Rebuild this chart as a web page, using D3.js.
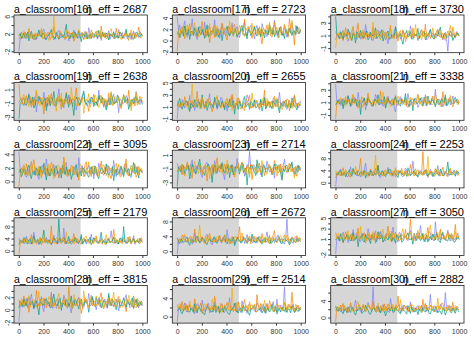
<!DOCTYPE html>
<html>
<head>
<meta charset="utf-8">
<script src="https://cdn.jsdelivr.net/npm/d3@7"></script>
<style>
  html, body { margin: 0; padding: 0; background: #fff; }
  svg { display: block; }
</style>
</head>
<body>
<script>
// Trace plots of a_classroom[16..30]: four chains, 1000 iterations, first 500 are warmup.
const params = ["a_classroom[16]", "a_classroom[17]", "a_classroom[18]",
                "a_classroom[19]", "a_classroom[20]", "a_classroom[21]",
                "a_classroom[22]", "a_classroom[23]", "a_classroom[24]",
                "a_classroom[25]", "a_classroom[26]", "a_classroom[27]",
                "a_classroom[28]", "a_classroom[29]", "a_classroom[30]"];
const nEff = [2687, 2723, 3730, 2638, 2655, 3338, 3095, 2714, 2253, 2179, 2672, 3050, 3815, 2514, 2882];

const nIter = 1000;
const warmup = 500;
const xTicks = [0, 200, 400, 600, 800, 1000];

// y tick positions and the labels that fit between them
const yTicks = [
  [-2, 0, 2, 4, 6], [-2, -1, 0, 1, 2, 3, 4], [-1, 0, 1, 2, 3, 4],
  [-3, -2, -1, 0, 1, 2], [-1, 0, 1, 2, 3, 4, 5], [-1, 0, 1, 2, 3, 4],
  [0, 1, 2, 3, 4], [-3, -2, -1, 0, 1], [0, 2, 4, 6, 8, 10],
  [0, 2, 4, 6, 8, 10], [0, 2, 4, 6, 8], [-2, -1, 0, 1, 2, 3, 4, 5],
  [-2, -1, 0, 1, 2, 3], [0, 2, 4, 6], [0, 2, 4, 6]
];
const yLabels = [
  [-2, 2, 6], [-2, 0, 2, 4], [-1, 1, 3],
  [-3, -1, 1], [-1, 1, 3, 5], [-1, 1, 3],
  [0, 2, 4], [-3, -1, 1], [0, 4, 8],
  [0, 4, 8], [0, 4, 8], [-2, 1, 3, 5],
  [-2, 0, 2], [0, 4], [0, 4]
];

const chainColors = ["#8080FF", "#F98400", "#00A08A", "#F2AD00"];

// Saved draws per chain (100 per chain, spread evenly over the 1000 iterations)
const tr16 = [
  [-2.0,0.9,1.2,1.7,2.1,2.4,0.9,1.1,1.8,1.5,2.6,0.8,1.3,2.0,0.7,1.4,2.2,1.8,1.5,2.7,3.1,0.6,1.0,1.3,1.9,2.2,2.4,1.6,0.6,1.0,1.7,2.5,2.8,1.2,1.1,1.9,1.4,0.7,2.0,2.3,0.4,1.5,1.6,1.1,2.9,2.0,1.8,0.9,1.2,1.7,2.3,1.4,0.8,2.6,1.5,1.0,3.4,1.8,1.9,1.3,1.1,2.1,2.5,0.8,1.6,1.6,0.5,2.4,2.0,1.2,1.3,1.9,2.7,0.7,1.8,1.5,0.9,2.2,1.4,1.0,3.0,1.6,1.7,2.3,1.0,1.3,2.2,0.9,1.5,1.8,0.7,2.0,2.6,1.1,1.9,1.4,1.2,2.5,2.1,1.7],
  [0.8,1.5,2.4,1.0,1.1,2.2,1.9,1.3,3.2,1.7,1.4,0.9,0.6,2.1,2.0,1.4,1.7,2.5,2.8,1.1,0.9,1.8,1.5,2.3,2.3,0.7,1.2,1.6,3.6,2.0,1.8,1.2,0.7,2.6,2.1,1.5,1.6,0.8,1.0,1.9,2.5,1.3,1.3,2.4,0.3,1.1,1.9,1.7,2.7,0.9,1.4,2.2,2.0,1.5,0.8,1.8,1.7,1.0,2.9,2.1,1.1,1.4,1.6,2.7,2.4,1.2,3.8,1.6,1.3,2.3,0.9,1.0,2.2,1.7,1.5,2.0,1.8,1.2,3.3,1.6,1.0,2.4,2.0,0.8,1.4,1.9,2.6,1.3,0.5,2.1,1.7,1.5,2.3,0.9,1.2,1.8,3.5,2.2,1.8,1.4],
  [1.5,2.1,0.9,1.4,2.2,1.0,1.6,2.4,0.4,1.8,2.5,1.2,1.8,0.7,1.1,1.9,2.9,1.5,1.3,2.2,2.0,1.1,0.7,1.6,1.7,2.3,3.0,1.2,1.4,0.8,2.3,1.7,0.8,2.0,1.9,1.3,1.2,2.6,4.2,1.5,1.6,0.9,2.1,1.8,1.0,2.4,1.5,1.1,2.6,1.6,0.2,2.0,1.8,1.3,2.4,0.8,1.3,1.9,0.9,2.2,2.0,1.4,1.7,1.0,2.8,1.8,1.1,2.3,1.5,1.2,2.2,1.7,0.6,2.0,1.9,1.3,2.5,0.9,1.4,1.6,1.0,2.4,2.1,1.1,1.6,1.9,3.1,1.4,1.3,2.2,1.8,0.8,0.8,1.7,2.4,2.0,1.5,1.2,2.0,1.6],
  [1.9,1.2,1.4,2.0,2.6,1.5,1.0,1.8,1.8,0.9,2.3,1.6,0.8,2.2,1.5,1.3,2.0,1.9,3.3,1.0,1.2,2.4,1.7,1.4,0.5,1.8,2.4,1.1,6.0,2.0,1.6,1.3,1.1,2.5,2.1,1.6,1.4,0.9,2.8,1.7,0.9,2.2,1.7,1.4,2.2,1.0,1.3,1.9,3.0,1.5,1.8,2.3,0.6,1.2,2.5,1.8,1.5,0.8,2.0,2.1,1.1,1.6,2.7,1.3,1.6,2.4,0.8,1.7,2.3,1.1,1.4,1.9,1.9,2.6,3.2,1.5,1.2,1.0,1.7,2.0,2.4,1.4,0.7,1.8,1.5,2.2,2.1,1.2,1.8,1.6,2.9,1.0,1.3,2.1,1.6,1.7,2.2,1.3,1.0,1.8]
];
const tr17 = [
  [4.3,1.9,2.8,1.3,1.2,2.4,3.5,1.6,0.6,1.1,2.1,2.0,3.9,1.4,1.4,0.8,0.2,1.7,2.6,2.2,1.8,1.0,3.3,1.5,0.9,2.5,2.4,1.2,1.1,1.8,3.7,0.7,1.6,2.1,0.4,1.4,2.9,1.9,1.3,0.9,2.2,2.6,0.8,1.5,3.1,1.1,1.7,2.0,2.5,1.3,0.5,1.8,1.9,2.3,3.4,1.0,1.0,1.6,2.3,2.7,1.5,1.2,0.3,2.0,2.7,1.5,1.2,0.8,3.0,2.2,1.8,1.4,0.7,1.7,2.2,2.4,1.4,1.1,3.6,1.9,0.9,1.3,2.0,2.5,1.6,0.9,2.8,1.6,0.6,2.1,1.9,1.4,3.2,1.8,1.3,1.0,2.4,2.3,1.7,1.5],
  [-1.9,1.3,1.0,2.0,2.5,1.4,0.3,1.7,1.8,2.2,3.0,0.9,1.2,1.6,2.2,2.3,0.7,1.1,1.6,2.0,3.4,1.5,1.1,0.6,2.0,1.8,-0.4,1.3,1.5,2.4,2.7,1.0,0.9,1.7,1.9,2.1,3.1,1.4,1.3,0.8,0.1,1.9,2.4,1.2,1.7,2.6,2.9,1.5,0.8,1.1,1.4,2.0,2.1,1.6,3.8,0.9,1.0,2.3,1.8,1.4,0.4,1.8,2.6,1.2,1.5,2.1,2.3,0.7,-0.6,1.5,1.2,1.9,2.8,1.3,1.9,0.8,0.6,2.2,3.3,1.6,1.6,1.1,2.0,2.5,0.9,1.4,2.5,1.8,1.3,0.6,3.9,2.0,1.1,1.5,-0.8,2.7,2.2,1.2,1.5,1.9],
  [1.2,1.8,0.5,1.1,1.9,0.8,2.6,1.4,1.0,2.1,0.2,1.5,1.7,0.9,2.3,1.6,0.8,2.4,1.4,1.0,2.0,1.3,0.4,1.9,2.8,0.7,1.1,1.7,1.6,2.2,0.7,1.2,2.2,0.6,1.3,1.8,0.0,1.4,1.8,2.0,2.5,1.1,0.9,1.6,1.5,0.8,2.1,1.9,0.6,1.3,1.2,2.3,2.7,1.0,1.0,1.5,0.3,2.0,1.9,0.9,1.4,1.7,2.4,1.2,0.8,2.1,1.6,0.7,2.0,1.4,0.5,1.9,1.3,1.0,2.9,1.6,1.1,2.2,0.7,1.3,1.8,0.5,2.3,1.7,1.0,1.2,0.4,2.1,1.5,0.9,2.2,1.4,0.9,1.8,1.7,1.1,2.6,1.5,1.2,2.0],
  [0.9,1.6,2.2,1.0,1.5,2.4,0.6,1.3,2.8,1.9,1.7,1.1,1.1,2.0,3.2,1.5,1.9,0.7,0.8,1.8,2.4,2.2,1.4,1.2,2.0,1.6,3.0,0.9,1.2,2.5,0.5,1.4,2.6,1.0,1.8,2.1,1.3,1.7,2.3,1.1,0.9,2.0,3.5,1.3,1.6,0.8,2.1,1.9,1.0,1.5,2.7,2.3,1.5,1.0,0.7,1.7,2.2,2.6,1.9,1.2,3.1,1.4,1.2,1.8,1.7,0.9,2.5,1.5,0.8,2.2,2.0,1.3,1.4,1.9,3.3,1.1,1.8,2.4,1.1,1.6,2.4,0.7,0.6,2.0,1.6,1.4,2.9,1.8,1.3,1.0,2.1,2.5,3.6,1.5,1.0,1.2,1.8,2.1,2.3,1.6]
];
const tr18 = [
  [0.3,1.0,1.2,0.5,0.6,1.4,1.8,0.8,0.9,1.2,0.1,0.7,1.4,1.6,2.3,0.9,0.7,0.4,1.0,1.3,0.4,1.1,1.6,0.6,2.7,1.5,0.8,0.9,1.3,0.3,0.2,1.2,1.1,1.7,1.9,0.8,0.5,1.0,0.9,1.4,1.5,0.6,-0.3,1.1,1.2,0.7,0.6,1.8,2.1,0.5,1.0,1.2,0.4,0.9,1.7,1.3,0.8,0.4,1.3,1.0,2.5,1.6,0.7,0.8,1.1,1.2,0.2,0.6,1.6,1.9,0.9,1.1,1.4,0.3,0.5,1.4,2.0,0.8,1.0,1.2,0.6,0.7,1.8,1.5,1.2,0.9,0.3,1.0,1.5,0.4,-1.5,1.3,0.9,0.8,1.3,1.1,0.7,1.6,1.1,0.9],
  [1.6,1.0,0.8,1.4,1.3,0.7,0.2,1.1,2.2,0.9,1.0,1.6,0.6,0.4,1.5,1.2,0.9,1.8,2.9,0.7,1.2,1.0,0.4,1.3,1.7,0.8,0.7,1.5,1.1,0.3,2.4,1.1,0.5,0.9,1.4,1.7,0.9,0.6,1.8,1.2,0.3,1.0,1.2,1.4,2.6,0.5,0.8,1.1,1.5,0.9,0.1,1.6,1.0,0.7,1.9,1.2,0.6,0.8,1.3,1.5,0.9,0.4,2.2,1.0,1.1,1.3,0.4,0.6,1.6,1.9,0.8,1.1,2.8,0.7,1.2,1.4,0.5,1.0,1.4,0.5,1.0,1.7,2.0,0.9,0.7,1.2,1.3,0.6,0.2,1.0,1.7,1.4,1.0,0.8,2.3,1.1,0.6,1.5,1.2,0.9],
  [4.0,1.2,0.9,0.5,1.6,1.1,0.4,1.4,1.1,0.8,2.0,1.3,0.7,0.2,1.3,1.0,-0.2,1.6,1.0,0.7,1.8,1.2,0.6,0.9,1.2,1.7,0.3,0.6,1.5,1.1,0.9,1.4,2.2,0.5,0.8,1.0,1.4,1.9,0.1,0.8,1.1,1.3,1.7,0.4,0.5,1.1,1.0,0.7,2.4,1.5,0.7,1.0,1.3,0.3,-0.4,1.2,1.2,1.8,0.8,0.9,1.6,0.6,0.4,1.3,1.0,1.0,2.1,0.5,0.9,1.2,1.5,1.6,0.3,0.8,1.1,1.4,1.9,1.0,0.6,0.4,1.3,1.1,0.9,1.7,2.3,0.8,0.5,1.3,1.2,0.6,0.8,1.0,1.7,1.4,0.2,0.7,1.0,1.2,1.4,0.9],
  [-1.0,0.8,1.1,1.5,0.5,0.9,1.7,1.2,0.9,0.4,1.4,1.0,0.2,1.6,2.5,0.7,1.0,1.3,0.6,1.1,1.3,0.5,1.9,1.0,0.4,1.4,1.1,0.8,0.8,1.2,3.1,1.0,0.7,1.7,1.2,0.6,0.3,1.1,1.6,0.9,1.0,1.5,0.5,0.8,2.0,1.2,0.9,0.4,1.3,1.6,0.6,1.0,1.8,0.7,1.1,1.3,0.0,0.9,1.5,1.8,0.8,1.1,1.2,0.6,2.7,1.4,0.6,1.0,1.0,0.3,1.7,1.2,0.4,1.5,1.3,0.8,0.9,1.1,2.2,0.7,0.7,1.4,1.1,0.9,1.6,1.2,0.5,0.6,1.4,1.1,0.9,1.5,2.6,0.8,0.8,1.3,1.2,0.9,1.0,1.1]
];
const tr19 = [
  [-0.9,-0.5,-0.2,-1.0,-1.4,-0.3,-0.5,-0.8,0.4,-1.2,-1.1,-0.6,-0.7,0.0,-2.3,-0.9,-0.3,-0.4,-0.9,-1.3,0.6,-0.7,-1.5,-0.1,-0.6,-1.0,-0.1,-0.6,-1.2,-1.5,-0.8,-0.2,1.1,-0.8,-0.4,-1.1,-1.7,-0.4,-0.7,-0.9,0.2,-1.2,-1.0,-0.3,-0.5,-0.7,-2.0,-1.0,-0.2,-0.5,-0.9,0.1,0.5,-0.8,-1.3,-1.4,-0.6,-0.6,-0.1,-0.3,-1.1,-0.9,-0.8,-1.2,0.9,-0.5,-0.4,-0.1,-1.6,-0.8,-0.7,-1.3,-0.2,-0.6,-1.2,-0.2,0.3,-1.0,-0.8,-0.7,-2.4,-0.4,-0.5,-1.1,-1.0,-0.8,0.1,-0.3,-0.7,-1.5,-1.4,-0.6,-0.3,-0.9,0.7,-0.2,-0.9,-1.2,-0.5,-0.7],
  [1.8,-0.4,-0.6,-1.1,-1.2,-0.5,0.1,-0.9,-0.8,-0.2,-1.6,-0.7,-0.3,-1.3,0.8,-0.6,-1.0,-0.1,-0.5,-1.0,-2.6,-0.6,-0.2,-1.4,-0.9,-0.3,0.4,-0.8,-1.3,-1.2,-0.7,0.0,-0.1,-0.9,-1.9,-0.5,-0.6,-1.1,0.6,-0.4,-1.1,-0.8,-0.4,-1.5,-0.8,-0.2,1.2,-0.7,-1.4,-1.0,-0.5,-0.3,-0.2,-0.9,-1.0,-1.2,-2.2,-0.4,-0.7,-0.8,0.3,-1.3,-1.2,-0.6,-0.6,0.2,-0.1,-1.0,-1.5,-0.5,-0.9,-1.6,0.5,-0.7,-0.4,-0.3,-1.1,-1.0,-0.7,-0.5,0.0,-1.2,-1.8,-0.6,-0.5,-0.2,-0.9,-1.1,0.9,-0.8,-1.3,-0.4,-0.6,-1.4,-0.2,-0.7,-1.0,0.0,-0.4,-0.9],
  [-3.3,-1.0,-0.8,-0.4,-0.3,-1.2,-1.3,-0.6,0.2,-0.9,-0.9,-0.1,-1.7,-1.3,-0.5,-0.7,0.0,-0.5,-1.1,-1.1,-0.6,-0.3,-2.1,-0.9,-0.2,-1.4,-0.8,-0.6,0.7,-1.0,-1.4,-0.2,-0.7,-0.8,-0.3,-1.5,-1.0,-0.4,0.4,-0.9,-1.6,-0.1,-0.6,-1.2,-2.8,-0.7,-0.1,-0.5,-0.9,-1.3,-0.5,0.1,0.8,-0.8,-1.2,-0.6,-0.7,-1.1,-0.2,-0.3,-1.5,-0.9,-0.8,-1.4,0.1,-0.5,-1.0,-0.2,-0.4,-1.0,-2.0,-0.7,-0.6,-1.3,0.5,-0.4,-1.2,-0.8,-0.9,0.2,-0.3,-1.1,-1.4,-0.6,0.2,-0.9,-0.7,-0.3,-1.9,-1.2,-0.5,-0.6,-1.1,-0.1,0.0,-1.0,-0.8,-0.5,-0.6,-1.2],
  [-0.5,-0.9,-1.2,-0.3,0.3,-1.1,-0.7,-0.6,-1.5,0.0,-0.2,-1.3,-0.9,-0.5,0.9,-0.8,-1.1,-1.4,-0.4,-0.2,-1.8,-0.7,-0.6,-1.0,0.2,-0.4,-1.0,-1.2,-0.3,-0.6,-2.2,0.1,-0.8,-0.9,0.5,-1.5,-1.3,-0.3,-0.5,-0.8,-0.9,-1.2,1.3,-0.5,-0.6,0.0,-1.4,-1.0,-0.1,-0.6,-0.8,-0.2,-2.5,-1.1,-0.4,-0.7,0.4,-1.6,-1.1,-0.4,-0.7,0.2,-0.2,-0.9,-1.6,-1.2,0.1,-0.5,-0.9,-0.3,-0.5,-1.0,-1.2,-0.7,0.7,-1.4,-0.6,0.0,-1.0,-0.8,-0.3,-1.3,-1.7,-0.6,0.3,-0.2,-0.8,-1.1,-0.4,-0.6,-2.1,-0.9,-0.7,-0.4,0.6,-1.3,-1.1,-0.7,-0.5,-0.1]
];
const tr20 = [
  [-1.0,1.6,1.3,0.9,2.2,1.5,0.8,2.0,1.7,1.2,2.9,0.7,1.1,1.8,0.4,1.4,1.9,2.3,1.4,1.0,2.5,1.7,0.9,1.3,1.6,2.1,3.2,0.8,1.0,1.5,2.1,1.9,0.6,1.2,1.5,2.6,2.4,1.0,1.2,1.7,0.3,1.4,1.8,2.2,2.7,0.9,1.0,1.6,1.4,2.0,2.0,1.1,0.7,1.8,1.6,1.3,3.0,2.4,1.3,0.8,0.9,1.5,2.2,1.9,1.5,1.1,0.5,2.1,1.9,1.4,2.6,0.7,1.1,1.8,1.7,1.2,0.8,2.5,2.3,1.0,1.4,1.6,3.4,1.3,1.0,2.0,1.8,0.9,0.6,1.7,2.1,1.2,1.3,2.3,2.8,1.5,1.6,0.8,1.2,1.9],
  [2.0,1.3,0.9,1.8,1.6,1.1,2.7,1.5,1.2,2.0,0.5,1.4,2.1,0.9,1.5,1.7,3.6,1.2,1.0,2.2,1.8,1.6,0.7,1.0,2.3,1.9,1.3,1.4,0.2,1.1,1.9,2.4,2.6,1.5,1.1,0.8,1.7,1.3,0.8,2.0,2.4,1.6,1.4,1.0,3.1,1.8,0.9,1.2,1.6,2.5,2.2,1.4,1.2,0.7,0.4,1.6,1.8,2.1,2.9,1.3,1.0,0.9,1.5,1.7,2.1,1.2,0.7,1.9,1.3,1.5,3.8,0.8,1.6,2.0,0.9,1.4,2.0,1.1,1.2,2.3,2.5,1.6,0.6,1.0,1.7,1.8,1.1,1.3,2.3,2.2,0.3,1.5,1.5,0.9,3.0,1.7,1.0,1.4,1.8,2.0],
  [1.1,1.7,2.4,1.2,0.6,1.4,1.5,2.0,1.9,0.9,0.2,1.6,1.3,1.0,2.2,1.5,0.9,1.8,1.7,0.7,3.0,1.3,1.0,1.9,0.4,1.2,1.8,1.5,1.4,0.8,2.6,1.6,0.8,2.1,1.2,1.1,2.0,1.4,0.5,1.7,1.6,0.9,2.3,1.3,1.1,2.0,-0.2,1.5,1.5,0.6,1.9,1.2,0.9,2.2,2.7,1.0,1.3,1.6,0.6,1.9,1.7,1.1,2.1,0.8,1.0,1.5,1.4,2.3,0.3,1.2,2.4,0.7,1.2,1.6,1.8,1.0,0.7,2.0,1.5,1.3,2.2,0.8,0.0,1.7,1.3,1.1,1.9,2.1,0.9,1.4,1.6,0.8,2.5,1.8,1.1,1.0,0.5,1.6,1.4,1.2],
  [0.5,1.4,1.7,1.0,1.2,2.1,2.3,1.5,0.8,1.1,1.5,1.9,4.8,1.3,1.0,2.2,1.9,1.6,0.6,1.2,2.6,0.8,1.4,1.7,1.1,2.4,2.0,1.3,0.7,1.0,1.6,2.0,2.9,1.5,1.3,0.9,0.9,1.8,1.8,1.2,2.2,1.4,1.0,2.7,0.4,1.6,1.7,1.1,2.5,1.9,1.2,0.6,1.5,1.5,0.8,2.3,2.1,1.3,1.4,0.8,3.3,1.7,1.1,2.0,1.9,1.2,0.6,1.6,1.6,2.5,1.2,1.0,2.4,1.4,0.9,1.9,1.5,0.7,2.8,1.3,1.0,2.2,1.7,1.5,0.5,1.1,2.0,1.8,1.3,0.9,1.8,1.6,0.7,2.4,2.3,1.0,1.4,1.7,1.1,1.5]
];
const tr21 = [
  [3.9,0.8,1.2,1.5,0.5,1.0,1.6,0.6,0.9,1.3,2.1,1.1,0.3,0.7,1.4,1.8,1.0,0.5,2.6,1.2,0.7,0.9,1.3,1.6,-0.2,0.8,1.8,1.4,1.1,0.4,0.6,1.0,2.3,1.7,0.9,0.6,1.5,1.2,0.4,1.9,1.2,0.7,2.0,1.1,0.8,1.4,1.6,0.3,-0.5,1.0,1.1,1.6,1.9,0.8,0.7,1.2,1.3,0.5,2.4,1.3,0.5,0.9,1.0,1.5,1.7,1.1,0.2,0.7,1.4,1.8,0.9,1.0,2.2,0.4,1.1,1.3,0.6,1.7,1.5,0.9,3.1,1.2,0.8,0.6,1.2,1.4,0.3,1.0,1.8,0.5,1.0,1.6,0.6,1.1,2.0,0.8,1.3,1.5,0.9,1.0],
  [-1.6,1.1,0.8,1.4,1.5,0.7,0.4,1.2,1.9,0.9,1.1,1.6,0.6,0.5,2.2,1.0,1.3,1.4,0.1,0.8,1.0,1.9,1.7,0.6,0.7,1.2,2.5,1.0,1.2,0.4,0.5,1.5,1.4,0.9,0.9,1.3,2.8,0.7,1.0,1.1,0.3,1.8,1.6,0.8,1.2,1.4,0.8,0.6,2.1,1.0,0.5,1.3,1.3,1.7,0.9,0.9,1.8,0.4,0.2,1.2,1.1,1.6,1.5,0.8,0.7,1.0,2.3,1.4,1.0,0.5,0.4,1.1,1.6,1.9,1.2,0.7,0.8,1.3,2.0,0.9,0.6,1.0,1.4,1.5,1.0,0.3,2.7,1.2,0.5,1.0,1.2,1.6,1.7,0.8,0.3,1.1,1.1,1.4,1.5,0.9],
  [0.6,1.0,1.4,0.8,0.9,1.5,0.0,1.2,1.3,0.7,2.0,1.1,0.5,1.6,1.1,0.9,1.6,0.4,0.8,1.3,-0.9,1.0,1.2,1.7,0.7,0.5,1.8,1.2,1.0,0.8,0.4,1.4,1.5,1.0,2.2,0.6,0.8,1.3,1.2,1.9,0.1,0.9,1.6,1.1,1.0,0.6,0.6,1.4,1.9,1.0,1.3,0.7,0.4,1.5,1.0,1.2,2.4,0.9,0.7,0.3,1.4,1.1,-0.3,1.6,1.1,0.8,0.9,1.3,1.7,1.0,0.5,1.8,1.2,0.6,2.0,1.1,0.8,1.4,1.3,0.9,0.3,1.2,1.5,0.7,0.9,1.6,1.1,1.0,2.2,0.5,0.6,1.3,1.4,0.9,0.8,1.5,1.8,1.1,1.0,0.7],
  [1.2,0.9,0.7,1.3,1.8,1.1,1.0,0.6,0.4,1.4,1.5,1.0,0.9,1.7,2.3,0.8,1.2,1.3,0.6,1.0,1.4,0.7,0.2,1.2,1.1,1.6,1.9,0.9,0.8,0.5,1.3,1.1,0.5,1.4,1.7,0.9,1.0,1.2,2.6,0.8,0.7,1.5,1.2,1.0,0.3,0.6,1.5,1.3,1.1,0.9,2.0,1.6,0.8,1.1,1.4,0.7,0.6,1.4,1.0,1.2,1.8,0.9,0.4,1.0,1.3,1.5,2.2,0.8,0.9,1.1,1.1,1.7,0.5,0.9,1.6,1.3,1.2,0.6,0.7,1.0,2.4,1.4,1.0,0.8,0.4,1.2,1.5,0.9,0.9,1.6,1.3,1.1,2.1,0.7,0.8,1.3,1.2,1.0,0.6,1.2]
];
const tr22 = [
  [4.4,1.7,1.2,2.0,2.3,1.4,0.6,1.1,1.8,2.2,2.9,1.5,1.0,1.9,1.5,0.8,0.3,1.6,2.1,2.4,1.4,1.0,3.3,1.8,0.9,1.3,1.7,2.1,2.5,0.7,1.1,1.5,0.5,1.9,2.0,1.2,1.3,2.6,2.8,1.0,0.8,1.7,1.6,1.4,2.2,2.0,1.0,0.9,3.5,1.6,1.4,2.3,0.7,1.1,1.9,1.8,2.4,1.3,1.2,2.1,0.4,1.5,1.8,0.8,2.7,1.9,1.1,1.4,1.5,2.2,0.9,1.2,2.3,1.7,1.6,0.9,3.1,1.5,0.7,2.0,1.3,1.1,2.0,1.8,1.0,2.5,2.6,1.3,1.4,0.8,0.6,1.6,1.9,2.1,2.2,1.2,1.2,1.8,1.7,1.4],
  [-0.75,1.3,2.0,1.6,1.4,0.9,2.6,1.8,0.9,1.2,1.7,2.3,3.2,1.5,1.1,0.8,2.2,1.9,0.5,1.4,1.6,2.1,1.9,1.0,0.8,1.7,2.8,2.4,1.3,1.1,2.1,1.5,0.6,2.0,1.5,1.2,3.6,1.8,1.0,0.7,1.8,1.4,2.4,2.2,0.9,1.6,1.4,1.0,0.2,1.9,2.0,1.3,1.2,2.5,2.9,1.1,1.6,1.7,0.7,2.2,2.3,1.4,1.1,0.8,1.7,1.9,3.0,1.2,0.9,1.6,1.5,2.4,2.1,1.0,0.4,1.7,1.8,1.3,1.3,2.0,2.5,0.9,1.0,1.5,1.6,2.2,3.3,1.1,0.8,1.8,2.0,1.4,1.4,2.6,0.6,1.0,2.2,1.7,1.5,1.2],
  [1.3,1.8,0.7,1.2,1.9,1.5,1.1,2.0,2.4,1.0,0.4,1.6,1.5,0.9,2.0,1.7,0.9,2.2,1.6,1.1,2.7,1.4,0.2,1.9,1.2,0.8,1.8,1.5,0.8,2.1,2.3,1.2,1.4,1.7,0.5,2.4,1.7,1.0,2.1,1.3,1.0,1.8,0.3,1.1,1.6,1.9,2.5,0.7,1.2,1.5,0.8,2.0,1.9,1.3,1.4,0.9,0.6,1.7,2.2,1.2,1.1,2.3,1.7,0.8,0.4,1.5,2.0,1.9,1.3,1.1,2.6,1.6,0.9,1.3,1.5,2.2,0.1,1.4,1.8,1.0,1.2,1.7,2.3,1.2,0.7,2.0,1.4,1.5,1.9,0.9,1.0,1.8,2.8,1.1,1.3,2.1,0.5,1.6,1.6,1.3],
  [1.8,1.3,1.0,2.1,2.5,1.2,1.4,0.9,0.8,1.7,3.0,1.4,1.6,2.2,1.1,1.0,2.2,1.8,0.7,1.5,1.9,2.3,1.3,0.8,2.6,1.6,1.0,1.9,0.4,1.2,1.7,2.4,2.3,1.1,1.2,1.6,3.4,2.0,1.5,0.9,0.9,1.4,2.0,2.2,1.3,1.0,1.8,1.7,0.6,2.5,2.4,1.3,1.1,0.7,1.6,1.8,2.9,1.5,1.0,2.1,1.4,1.2,2.1,0.9,0.8,1.6,1.7,2.3,2.5,1.4,1.2,0.8,0.5,1.9,1.9,1.1,1.4,2.0,2.7,1.5,1.1,0.7,0.7,1.7,2.2,2.6,1.5,1.0,1.0,1.6,2.4,1.9,1.3,1.1,1.8,2.2,0.9,1.4,2.0,1.6]
];
const tr23 = [
  [-0.2,-0.9,-1.3,-0.5,-0.7,-1.6,-2.0,-0.8,-0.4,-1.2,-1.1,-0.3,0.3,-1.4,-1.6,-0.6,-0.9,-1.1,-0.5,-1.8,-2.3,-0.7,-1.0,-0.2,-0.1,-1.3,-1.4,-0.9,-0.8,-1.5,0.2,-0.6,-1.7,-1.0,-0.6,-0.4,-1.2,-1.7,-2.6,-0.8,-0.3,-1.2,-1.0,-0.5,-1.5,-0.9,-0.7,-1.4,0.5,-0.7,-1.2,-1.1,-0.9,-0.3,-2.1,-1.5,-0.4,-0.8,1.5,-1.0,-1.1,-0.4,-0.6,-1.3,-1.8,-0.7,-0.2,-1.9,-1.3,-0.5,-0.8,-1.1,0.1,-0.6,-1.5,-1.4,-1.0,-0.8,-2.4,-0.3,-0.5,-1.0,-1.2,-1.6,-0.7,-0.6,0.4,-1.2,-1.6,-0.9,-0.9,-0.4,-0.3,-1.3,-1.9,-0.7,-1.0,-1.5,-0.6,-1.1],
  [-1.5,-1.0,-0.6,-1.4,-1.9,-0.5,-0.9,-1.2,0.0,-0.8,-1.3,-1.7,-2.4,-0.6,-0.7,-1.1,-1.1,-0.4,-0.2,-1.5,-1.6,-0.9,-0.8,-1.3,-2.8,-0.7,-1.2,-1.0,-0.4,-1.8,-1.0,-0.5,0.6,-1.1,-1.5,-0.3,-0.9,-1.4,-0.3,-0.8,-1.8,-1.2,-1.1,-0.6,-0.5,-1.6,-2.2,-0.9,-0.8,-0.2,-1.4,-1.3,0.0,-0.7,-1.0,-1.9,-0.6,-1.0,-1.7,-0.4,-2.6,-1.2,-0.9,-0.8,-0.3,-1.5,-1.3,-0.6,-0.7,-1.1,-2.0,-0.9,-1.1,-0.5,-0.4,-1.4,-1.6,-1.0,0.2,-0.7,-0.9,-1.6,-1.4,-0.3,-2.5,-1.2,-0.6,-0.8,-1.0,-1.5,-0.2,-0.6,-1.5,-1.1,-0.8,-1.7,-2.1,-0.5,-1.1,-1.3],
  [-3.6,-0.8,-1.1,-1.5,-0.4,-0.7,-1.7,-1.2,-0.9,-0.5,-2.5,-1.4,-0.3,-0.9,-1.2,-1.8,-0.7,-0.4,0.4,-1.1,-1.4,-1.6,-2.0,-0.8,-0.6,-0.3,-1.0,-1.3,-3.0,-0.9,-0.5,-1.7,-1.3,-0.6,-0.8,-1.0,-0.1,-1.4,-1.6,-0.8,-1.0,-0.4,-2.3,-1.2,-0.4,-1.9,-1.2,-0.7,-0.7,-1.0,-1.8,-0.5,-0.2,-1.6,-1.1,-0.9,-3.4,-1.3,-0.9,-0.6,-0.5,-1.1,-1.5,-2.0,0.3,-0.8,-1.0,-1.2,-2.2,-0.4,-0.6,-1.5,-1.3,-0.9,-0.8,-0.7,-1.9,-1.3,-0.3,-1.1,-1.1,-0.5,-0.7,-1.7,-2.7,-1.0,-1.4,-0.6,-0.5,-1.4,-1.0,-0.8,0.0,-1.2,-1.6,-1.8,-0.9,-0.5,-1.2,-1.0],
  [-0.8,-1.2,-1.4,-0.6,-0.3,-1.5,-2.1,-0.9,-1.0,-0.4,-0.6,-1.3,-1.6,-0.8,0.1,-1.1,-1.2,-1.7,-0.8,-0.5,-1.9,-1.0,-0.5,-1.4,-1.1,-0.7,-2.5,-1.2,-0.7,-0.3,-1.3,-1.6,-0.2,-0.9,-1.0,-1.1,-1.7,-0.4,-0.5,-1.3,0.3,-0.8,-1.2,-1.5,-0.9,-0.6,-2.0,-1.1,-0.6,-0.2,-1.4,-1.4,-0.3,-0.9,-1.1,-1.8,-0.8,-0.5,-2.3,-1.2,-0.4,-0.7,-1.2,-1.0,-1.6,-0.3,-0.7,-1.6,0.2,-0.8,-1.0,-1.3,-1.8,-0.6,-0.5,-1.1,-1.3,-1.9,-0.9,-0.4,-2.1,-1.0,-0.4,-1.5,-1.1,-0.7,-0.7,-1.2,-1.5,-0.5,-0.2,-1.4,-1.2,-0.9,-2.4,-0.6,-0.8,-1.3,-1.0,-0.8]
];
const tr24 = [
  [-1.25,2.6,3.0,3.9,4.5,2.8,2.4,3.3,3.8,2.1,2.0,3.5,5.2,2.7,3.1,4.0,2.6,2.3,4.1,3.4,1.8,2.9,3.5,4.2,6.4,3.0,2.9,2.4,3.7,3.6,2.2,2.8,4.6,3.2,3.2,2.0,1.6,3.7,3.9,2.5,2.7,3.3,5.0,2.9,3.3,3.8,2.1,2.4,4.3,3.1,2.8,3.6,3.6,2.2,1.9,3.0,4.8,4.1,3.0,2.6,2.5,3.4,7.1,2.9,3.4,2.3,2.3,3.7,4.0,3.2,2.9,2.5,3.5,4.4,1.7,2.8,4.4,3.3,3.1,2.0,2.6,3.6,5.6,2.7,3.2,3.9,2.4,2.2,3.8,3.0,2.0,3.4,4.7,2.5,3.0,4.2,2.7,2.9,3.6,3.1],
  [1.5,3.2,3.6,2.5,2.3,3.9,4.9,2.7,2.9,3.4,3.3,2.0,1.8,3.6,4.2,2.9,2.6,3.1,3.8,4.3,8.0,2.4,2.8,3.7,3.4,2.6,2.0,3.0,4.5,2.2,3.1,3.8,2.4,2.7,5.5,3.3,3.0,2.5,2.2,4.0,3.7,2.8,4.4,3.5,2.6,2.1,3.2,3.9,1.9,2.6,4.1,3.1,3.5,4.7,2.7,2.3,3.9,3.6,2.3,2.9,6.0,3.4,3.1,2.2,2.5,3.8,4.3,2.6,2.9,3.3,10.2,2.8,3.4,4.1,2.1,3.0,3.8,2.4,2.7,3.5,4.6,2.9,3.0,2.3,2.2,3.7,5.1,2.8,3.3,3.2,2.6,4.4,4.0,2.5,2.8,3.1,3.5,3.9,2.4,2.7],
  [3.2,2.7,2.5,3.6,4.0,2.3,2.8,3.4,1.9,2.9,3.5,4.2,2.6,2.1,4.7,3.0,3.0,3.8,2.2,2.5,3.6,3.2,2.7,4.0,1.5,2.8,3.3,2.4,4.1,3.5,2.4,2.9,3.0,3.3,5.8,2.2,2.6,3.9,3.4,2.6,2.0,3.1,3.1,4.4,4.3,2.7,2.5,3.4,2.9,2.3,1.7,3.7,3.8,2.8,2.7,3.2,3.3,2.1,4.9,3.6,2.3,2.9,3.0,4.0,2.6,2.5,1.8,3.3,3.6,2.7,2.8,3.8,4.2,2.4,2.4,3.0,3.1,3.5,2.0,2.8,3.5,4.1,2.7,2.3,4.5,3.2,2.2,2.6,3.0,3.9,6.8,2.5,2.6,3.4,3.3,2.9,2.1,3.6,3.7,2.8],
  [4.0,3.1,2.9,2.4,3.5,3.9,2.3,2.8,4.4,3.3,3.1,2.5,2.6,3.7,3.8,2.9,5.4,3.2,2.8,2.2,3.3,4.1,2.1,3.0,4.0,2.6,3.0,3.5,2.5,2.3,3.7,4.2,9.0,3.0,2.9,2.7,3.4,3.6,2.2,2.4,4.2,3.1,3.1,2.8,2.7,3.9,3.6,2.5,5.0,3.3,2.4,2.9,3.2,4.0,2.8,2.2,4.1,3.4,2.0,2.7,3.5,3.8,3.0,2.4,4.6,3.1,2.6,2.6,3.3,3.7,2.3,2.9,3.9,3.2,8.6,2.5,2.8,3.6,3.4,2.3,2.5,4.4,4.3,2.8,3.1,3.0,2.2,3.5,3.7,2.1,2.9,3.8,4.8,2.7,2.6,3.3,3.2,4.0,3.0,2.6]
];
const tr25 = [
  [4.2,2.8,3.0,3.6,2.3,2.5,4.8,3.3,3.5,2.2,2.6,3.9,6.2,2.9,3.1,3.4,2.0,4.1,3.9,2.7,2.8,3.2,4.4,2.4,3.3,3.7,1.9,3.0,5.1,2.6,3.0,3.5,2.5,4.3,3.7,2.9,7.5,2.3,2.7,3.6,3.4,3.1,2.1,2.8,4.0,4.5,3.2,2.6,2.6,3.3,4.6,2.2,3.0,3.8,2.2,3.4,3.8,2.7,5.5,3.1,2.9,4.2,3.5,2.5,2.4,3.0,4.1,3.7,3.1,2.4,2.0,3.2,3.6,4.0,6.6,2.8,2.8,3.5,3.3,2.3,2.5,3.9,4.3,2.6,3.0,3.1,2.3,4.4,3.9,2.9,2.7,3.4,5.0,2.1,3.2,3.6,2.6,4.2,3.5,3.0],
  [-1.1,2.4,3.6,3.1,2.5,4.2,4.0,2.7,2.9,3.5,5.3,2.2,3.2,3.8,2.4,2.9,3.8,4.4,2.0,3.1,4.5,2.6,3.0,3.7,2.7,3.3,8.2,2.5,3.3,3.9,2.2,2.8,3.9,4.1,2.8,3.4,4.6,2.3,3.1,3.0,2.3,3.6,3.6,2.7,5.7,3.2,2.6,4.0,3.0,2.5,2.1,3.4,4.2,2.9,3.4,3.8,2.8,2.4,3.7,3.1,2.4,4.3,4.9,2.8,3.0,3.5,2.6,2.2,3.5,3.9,2.2,3.0,4.1,2.6,3.2,3.3,7.0,4.0,2.7,2.4,3.3,3.6,2.5,2.9,4.4,3.2,2.9,2.5,3.6,4.7,2.3,3.1,3.9,2.8,3.1,3.5,2.6,2.3,4.3,3.4],
  [2.0,3.3,3.1,2.6,4.4,3.5,2.7,2.2,3.6,4.0,2.2,3.2,4.9,2.8,3.3,3.7,2.5,2.4,3.8,4.3,6.8,2.9,2.9,3.4,3.5,2.6,2.1,3.1,4.2,3.8,3.0,2.3,10.4,3.6,2.6,2.9,3.4,4.1,2.3,3.0,4.7,2.5,3.1,3.5,2.8,4.0,3.9,2.7,2.4,3.2,5.4,2.2,3.2,3.7,2.7,3.0,3.6,4.4,2.0,2.6,4.3,3.4,3.0,2.8,2.6,3.9,6.1,2.5,3.3,3.1,2.4,3.8,3.8,2.7,2.9,3.3,4.5,2.4,3.1,3.6,2.2,4.2,3.7,2.9,8.0,3.0,2.8,2.5,3.2,3.9,2.5,3.4,4.0,2.6,3.4,3.1,2.7,3.8,3.3,2.8],
  [3.5,2.9,2.4,3.8,4.0,2.6,3.0,3.3,2.6,4.2,4.6,2.8,3.2,3.6,2.1,2.5,3.7,4.1,2.9,3.0,5.0,2.7,3.4,3.5,2.5,2.3,3.9,3.8,2.8,2.4,4.3,3.6,3.1,2.9,2.3,4.4,3.6,3.1,6.3,2.6,2.7,3.5,3.3,4.0,2.2,2.8,4.1,3.3,3.0,2.5,2.6,3.7,3.8,4.5,4.8,2.9,2.5,3.2,3.4,2.4,2.9,3.9,4.2,3.0,2.3,2.7,3.5,3.6,3.0,2.2,5.3,3.4,2.7,3.1,3.2,2.6,2.4,4.1,4.0,2.9,3.1,3.5,2.6,2.3,3.7,3.8,2.9,2.8,4.5,3.2,2.2,3.6,3.3,2.5,2.8,4.0,3.9,2.7,3.0,3.4]
];
const tr26 = [
  [-0.75,2.6,3.4,3.0,2.2,3.7,4.1,2.5,2.8,3.3,3.6,2.9,1.9,3.4,5.0,2.3,3.0,3.9,2.4,2.7,3.8,3.1,2.6,4.2,4.6,2.8,3.2,2.2,1.7,3.5,3.5,2.9,2.9,3.2,4.3,2.4,2.3,3.6,3.1,2.7,5.8,3.3,2.7,2.1,3.4,3.8,2.0,2.9,3.9,3.4,2.8,2.5,3.3,4.0,2.1,3.0,4.5,2.6,3.0,3.5,2.5,2.3,3.7,3.1,2.2,3.9,4.0,2.7,3.1,2.4,2.6,3.6,5.2,3.0,2.9,2.2,3.5,3.7,2.3,2.8,3.8,4.4,2.7,3.2,3.2,2.5,1.9,3.3,8.6,2.7,3.0,3.4,2.4,2.1,3.6,3.9,2.8,2.6,3.3,3.0],
  [1.8,3.1,2.9,2.4,4.4,3.6,3.1,2.7,2.3,3.3,3.7,4.0,2.7,2.2,6.0,3.5,3.2,2.8,2.5,3.4,3.9,2.6,2.1,3.0,3.4,4.1,4.8,2.9,2.8,2.3,3.0,3.6,2.4,3.2,4.2,2.5,3.3,3.8,2.6,2.7,3.6,3.1,1.9,2.4,4.0,3.5,2.9,2.8,3.5,3.2,6.6,2.5,2.7,3.7,3.1,2.9,2.2,3.3,4.1,2.0,3.4,3.9,2.5,2.6,3.8,3.4,2.9,2.2,4.7,3.0,2.4,3.6,3.2,2.8,2.0,3.3,3.7,4.3,5.5,2.6,2.8,3.1,3.3,2.4,2.6,3.7,4.4,2.9,3.0,3.5,2.3,2.1,3.9,3.4,2.7,3.0,4.2,2.5,3.1,3.6],
  [3.6,2.8,2.1,3.2,3.0,2.4,2.6,3.5,3.8,2.2,1.6,3.0,3.2,2.6,2.7,3.7,4.1,2.9,2.3,2.5,3.5,3.3,2.9,2.0,1.8,3.1,3.4,2.7,2.5,3.6,3.9,2.3,2.2,3.0,3.1,2.8,2.8,3.4,4.4,2.4,2.0,3.2,3.3,2.7,2.6,3.8,1.5,2.5,3.7,3.0,2.9,2.2,2.4,3.3,3.6,2.9,2.1,3.5,3.0,2.6,4.6,3.1,2.5,2.3,3.2,3.7,2.7,2.8,1.9,3.2,3.5,2.4,2.8,3.4,4.0,2.1,2.3,3.0,3.1,2.7,2.6,3.6,3.8,2.2,2.0,3.1,3.4,2.8,2.9,2.5,1.7,3.3,3.6,2.9,2.5,2.3,3.2,3.5,2.8,2.6],
  [2.6,3.2,3.5,2.5,2.8,3.9,4.6,2.7,3.1,3.4,2.4,2.9,3.7,3.3,2.9,2.2,3.3,3.8,7.0,2.6,2.7,3.1,3.6,4.0,2.2,2.8,4.2,3.5,3.0,2.3,2.6,3.2,3.9,4.1,3.2,2.7,2.5,3.0,4.5,3.6,2.8,2.4,3.4,3.3,2.1,2.9,3.8,4.0,3.0,2.5,2.7,3.4,4.9,2.8,3.3,3.1,2.4,3.7,3.6,2.3,2.9,3.0,4.1,3.5,2.6,2.6,3.2,3.9,2.3,2.9,3.8,3.4,3.0,2.2,4.4,3.1,2.7,3.6,3.5,2.8,2.2,3.3,3.9,4.2,3.1,2.5,2.8,3.0,4.3,3.7,2.5,2.9,3.4,3.5,3.0,2.4,2.6,3.2,3.7,2.9]
];
const tr27 = [
  [-1.9,1.1,1.6,0.9,0.7,1.5,2.3,1.0,1.1,1.9,0.3,1.2,1.8,0.6,2.8,1.4,1.0,2.0,1.4,0.8,0.5,1.6,2.1,1.3,1.3,0.7,3.0,1.8,0.8,1.1,1.7,2.2,0.2,1.4,1.2,0.9,2.5,1.6,1.5,1.0,0.6,2.0,1.9,1.3,1.0,0.5,3.3,1.7,1.4,1.1,0.4,2.3,2.0,0.9,1.1,1.5,1.6,1.2,0.7,1.8,2.6,0.8,1.3,1.4,0.9,2.1,1.8,1.0,3.6,1.6,1.2,0.7,0.5,1.3,1.5,2.4,2.2,1.1,1.0,0.6,4.3,1.7,1.4,1.2,0.8,2.0,1.9,0.9,1.1,1.5,2.7,1.3,0.6,1.8,1.6,0.8,1.2,1.4,2.1,1.0],
  [2.2,1.4,0.9,1.8,1.5,1.0,0.4,1.3,2.4,1.7,1.2,0.8,1.8,2.0,0.6,1.1,1.3,1.5,3.1,0.9,1.0,1.6,1.7,2.2,0.2,1.2,2.0,0.7,1.4,1.9,0.8,1.3,2.6,1.0,1.1,2.3,1.6,1.4,0.5,0.9,1.9,1.7,3.5,1.2,1.2,2.5,0.7,1.0,2.3,1.5,1.5,0.6,0.9,1.8,1.8,1.3,2.8,1.1,1.0,2.0,4.8,1.4,1.4,0.8,0.6,1.6,2.1,2.2,1.2,1.0,1.7,1.3,0.8,1.9,3.2,0.7,1.3,1.5,2.0,1.1,0.9,2.4,1.6,1.2,2.9,0.9,1.1,1.7,0.7,1.4,2.4,1.0,1.5,2.1,1.0,1.3,3.8,0.8,1.3,1.6],
  [0.8,1.2,1.4,0.6,2.0,1.5,0.3,1.0,1.1,1.8,1.7,0.9,0.6,1.3,2.2,0.7,1.0,1.6,-0.5,1.1,1.3,2.0,0.7,0.4,1.9,1.2,1.2,0.8,0.1,1.7,1.6,1.0,0.9,0.5,2.4,1.4,1.0,1.9,0.4,0.8,1.5,1.2,0.8,1.6,2.0,0.6,1.3,1.0,0.2,1.8,1.1,1.3,1.8,0.4,0.6,1.1,1.4,1.6,2.2,0.9,0.9,1.2,0.0,2.1,1.2,0.7,1.6,1.4,0.7,1.0,2.1,0.5,1.0,1.7,0.4,1.2,1.5,0.8,1.9,1.3,0.8,2.0,1.3,0.6,0.3,1.5,2.3,1.0,1.1,0.7,0.6,1.8,1.7,1.1,1.0,0.4,0.5,1.3,1.4,0.9],
  [1.5,1.0,2.1,1.6,1.0,2.0,1.8,1.1,0.7,1.4,2.6,0.8,1.3,1.9,0.9,1.2,2.0,2.3,1.6,0.9,3.4,1.5,1.1,1.7,0.5,1.0,1.9,2.2,1.4,1.3,2.4,0.7,0.8,1.8,1.7,1.4,1.2,2.1,2.9,1.0,1.0,1.6,1.5,2.5,0.6,1.2,2.2,1.9,1.3,0.9,1.9,1.5,0.9,2.3,3.0,1.1,1.4,0.8,1.1,1.7,2.3,1.4,0.8,2.0,1.6,1.2,2.7,0.9,1.2,1.8,0.9,1.5,2.0,1.1,1.5,2.6,3.7,1.3,1.1,0.8,1.8,1.7,0.7,2.2,2.5,1.0,1.3,1.5,1.0,2.0,2.1,1.2,1.6,0.7,0.8,1.9,2.4,1.4,1.2,1.6]
];
const tr28 = [
  [-1.9,0.7,1.2,1.5,0.4,1.0,1.8,0.3,0.8,1.3,2.5,0.9,0.1,1.6,1.4,0.6,0.9,1.2,2.1,0.4,-0.3,1.7,1.1,0.8,0.6,1.1,2.8,0.2,1.3,1.5,0.2,0.9,1.7,1.3,0.9,0.5,2.3,1.8,0.5,1.0,1.0,0.4,-0.5,1.2,1.5,0.7,0.8,1.6,2.0,0.9,1.2,0.3,0.3,1.4,1.6,1.1,2.6,0.6,0.7,1.9,1.1,0.8,0.0,1.3,1.9,0.5,0.9,1.0,1.4,1.7,0.4,0.2,2.2,1.1,1.0,0.7,0.6,1.4,1.7,0.9,-0.2,1.2,1.3,0.6,0.8,1.8,2.4,1.0,1.1,0.3,0.5,1.5,1.6,0.8,0.9,1.3,0.3,1.1,1.2,0.6],
  [1.6,0.9,0.5,1.3,2.2,0.6,1.0,1.5,-0.4,0.8,1.4,1.1,0.8,0.4,3.1,1.2,0.6,1.7,1.2,0.7,1.9,1.0,0.3,1.4,1.0,0.5,2.4,1.2,0.7,0.8,1.5,1.8,0.1,0.6,1.1,1.3,2.0,0.9,0.9,0.2,3.65,1.5,0.4,1.0,1.3,0.7,0.8,1.6,1.8,1.1,-0.6,0.4,1.0,1.9,1.6,0.8,0.5,1.2,2.3,0.6,1.2,1.4,0.7,0.9,1.4,2.0,2.7,0.5,0.2,1.1,1.1,1.6,0.9,0.7,1.8,1.3,0.4,0.9,1.3,1.7,2.1,0.3,0.6,1.2,1.0,0.8,-0.3,1.5,1.5,1.0,0.8,0.4,2.2,1.3,1.1,1.8,0.6,0.7,1.4,1.1],
  [0.3,1.3,1.0,0.5,1.7,1.1,0.6,1.8,2.0,0.7,0.9,1.4,0.2,1.0,1.4,0.4,-0.8,1.2,1.1,0.8,0.7,1.6,1.8,0.9,1.2,0.3,0.4,1.5,2.5,1.1,0.8,0.6,1.3,1.9,-0.1,1.0,1.0,0.7,1.6,1.4,0.5,1.1,2.2,0.2,0.9,1.7,1.3,0.8,0.1,1.2,1.7,0.6,0.7,1.5,1.1,0.9,-0.4,1.3,1.4,2.1,0.8,0.5,2.0,1.0,1.0,1.6,0.3,0.8,1.5,1.2,0.9,0.4,2.6,1.1,0.6,1.7,1.2,0.9,0.0,1.4,1.6,0.6,0.8,1.2,1.9,1.0,0.4,1.5,1.1,0.7,1.4,1.9,0.2,1.0,1.7,0.5,1.0,1.3,0.7,1.1],
  [1.1,0.7,1.8,1.2,0.6,1.5,1.3,0.9,2.3,0.4,0.9,1.7,1.5,1.0,0.4,1.3,2.9,0.6,1.0,1.8,1.4,0.8,0.7,1.1,2.1,1.6,1.2,0.5,0.3,1.2,1.6,1.9,2.6,0.9,0.8,1.3,1.3,0.6,0.5,1.4,1.9,1.1,1.0,0.2,2.4,1.5,0.6,1.0,1.4,1.8,0.9,0.7,3.0,1.3,1.1,0.8,0.4,1.6,1.7,1.0,1.0,0.5,2.2,1.4,0.7,1.1,1.5,2.0,0.2,0.9,1.2,1.3,1.9,0.6,0.9,1.5,2.8,1.2,0.5,0.8,1.4,1.7,1.1,0.4,0.6,1.3,1.8,0.9,2.3,1.6,0.8,1.2,1.3,0.6,0.3,1.4,1.6,1.1,1.0,0.8]
];
const tr29 = [
  [-1.1,1.6,2.2,2.7,1.4,1.9,3.0,1.2,1.0,2.4,2.5,1.5,1.7,2.1,0.6,1.8,2.8,2.6,1.9,1.1,3.6,2.0,1.2,1.4,2.3,2.9,0.8,1.7,1.6,2.2,3.2,1.3,2.0,1.9,1.3,2.5,2.7,1.0,0.9,1.8,1.8,2.3,4.1,1.4,1.5,2.1,2.4,3.1,1.1,1.6,2.0,0.9,3.4,2.2,1.4,1.7,0.7,2.6,2.6,1.5,1.8,2.0,1.2,1.3,3.0,2.4,2.1,1.1,1.5,2.8,0.9,1.9,2.9,1.4,1.7,2.2,2.3,3.3,1.0,1.6,3.8,1.2,1.6,2.5,2.2,1.8,6.5,1.0,1.3,2.3,2.5,1.7,1.9,2.7,0.8,1.4,2.4,2.0,1.6,2.1],
  [2.6,1.9,1.5,2.4,3.3,1.2,2.0,2.8,1.1,1.6,2.7,2.2,1.8,1.4,3.9,2.5,1.3,1.9,2.2,3.0,0.7,1.5,1.9,2.3,2.8,1.7,1.4,2.1,2.4,1.0,4.4,2.6,1.7,1.8,1.0,2.9,2.5,1.3,2.0,2.2,3.1,1.6,1.2,2.4,1.8,1.1,2.9,2.0,0.9,3.2,2.1,1.5,1.6,2.7,3.7,1.8,2.3,1.2,1.3,2.5,2.6,2.0,1.9,1.4,4.8,2.3,1.5,2.8,2.0,1.7,1.1,2.1,2.7,1.3,3.5,2.6,1.6,1.9,2.2,1.5,1.0,2.4,2.4,1.8,1.8,1.2,3.0,2.2,1.4,2.7,2.6,1.6,5.3,2.0,1.7,1.1,2.1,2.5,1.3,1.8],
  [1.2,1.7,2.0,1.0,0.6,1.4,1.7,2.2,2.4,1.1,1.0,1.8,1.5,0.9,2.8,1.5,0.8,2.1,1.9,1.2,1.3,0.7,0.4,1.6,2.2,2.0,1.6,1.1,1.0,1.7,2.6,0.9,1.4,2.3,0.7,1.5,1.8,1.0,2.3,1.9,1.1,0.6,0.5,1.4,1.7,2.1,2.9,1.2,1.2,0.8,1.6,1.8,0.9,2.4,2.0,1.3,1.4,0.9,0.3,1.6,1.9,2.2,2.5,1.0,1.1,1.5,1.5,2.0,0.8,1.3,2.2,0.7,1.7,1.9,1.0,1.4,2.7,1.1,1.3,2.3,0.6,1.6,1.8,1.0,2.1,1.4,1.2,2.0,0.9,1.7,1.6,0.8,2.4,1.5,1.0,1.9,1.4,1.1,1.9,1.5],
  [1.8,2.3,2.9,1.5,1.3,2.0,2.2,2.6,1.6,1.2,3.4,1.9,2.0,2.5,1.1,1.7,2.5,2.1,1.7,1.3,1.0,2.4,2.8,1.8,1.5,2.2,2.1,1.4,3.8,2.7,1.4,1.9,2.3,1.0,1.9,2.4,0.9,1.6,2.6,2.0,1.6,3.0,2.2,1.5,6.2,2.1,1.3,1.7,3.0,2.3,1.8,1.2,2.4,1.9,1.2,2.6,2.0,1.5,3.3,1.8,1.5,2.2,2.7,1.3,1.0,2.0,2.1,2.9,1.7,1.4,3.6,2.2,1.4,1.7,2.3,2.5,1.9,1.1,1.1,2.4,2.8,1.8,1.6,2.0,2.0,1.3,3.1,2.6,1.3,1.9,2.5,1.6,1.8,2.2,1.2,2.7,2.2,1.5,1.7,2.1]
];
const tr30 = [
  [1.6,2.2,2.5,1.8,1.4,2.7,3.3,1.5,2.0,2.4,1.2,1.9,2.8,2.1,1.7,3.0,4.2,1.6,2.3,2.5,1.5,1.3,2.9,2.2,1.9,1.8,3.6,2.6,2.2,1.4,7.4,2.0,1.8,2.8,2.6,1.7,1.3,2.3,3.1,1.9,2.1,2.5,1.6,1.2,4.6,2.7,2.4,1.9,1.9,2.4,2.7,3.2,1.1,1.6,3.0,2.1,2.2,2.8,1.7,1.4,3.8,2.3,2.5,1.9,1.4,2.6,2.9,1.7,2.0,3.0,1.6,2.2,3.4,1.5,2.3,2.4,5.6,2.0,1.8,2.9,2.6,1.3,1.5,2.1,3.2,2.5,2.1,1.8,6.0,2.3,1.9,2.8,2.7,1.6,2.3,2.0,1.7,2.6,2.5,2.2],
  [-1.0,2.4,2.1,1.6,3.0,2.2,1.7,2.9,2.4,1.5,1.3,2.0,3.6,2.6,2.0,1.4,1.6,2.3,2.7,3.1,1.9,1.8,3.2,2.5,1.4,2.1,2.5,2.9,2.0,1.7,4.0,2.2,1.5,2.6,2.3,1.3,2.8,2.0,1.8,3.3,1.2,2.4,3.3,1.9,2.2,2.7,1.7,1.5,2.9,2.3,5.2,1.8,2.0,2.6,1.5,3.0,2.6,2.1,1.9,1.4,3.1,2.5,1.3,2.2,2.4,1.9,1.8,2.8,2.7,1.6,4.4,2.3,2.1,3.0,1.6,1.8,3.0,2.5,2.3,1.5,1.4,2.7,2.8,2.0,2.0,3.4,3.5,1.7,1.7,2.5,2.2,2.9,1.5,2.1,3.7,1.6,2.4,2.6,2.0,1.9],
  [2.8,1.9,1.5,2.3,2.2,1.4,0.9,2.0,1.9,1.2,2.6,1.7,1.2,2.5,2.0,1.1,0.6,1.8,1.7,2.2,2.4,1.0,1.3,1.6,3.0,2.1,1.8,0.9,0.8,1.7,2.1,2.4,1.5,1.3,2.7,1.9,1.1,2.3,1.9,1.5,0.4,1.2,2.3,2.0,1.6,2.6,1.2,1.4,2.5,1.8,1.8,1.1,0.9,2.2,2.0,1.6,1.4,0.8,2.9,1.9,1.0,2.4,1.7,1.3,2.2,1.8,0.7,2.1,1.6,1.2,2.4,1.7,1.3,2.5,2.0,1.0,0.9,1.9,1.8,1.4,2.6,2.3,1.1,1.6,1.5,0.8,2.2,2.0,0.6,1.5,1.9,2.1,1.4,1.1,2.3,1.6,1.0,2.2,1.7,1.3],
  [2.0,2.4,2.7,1.8,1.6,2.3,3.4,2.0,2.2,1.5,1.8,2.6,2.9,2.1,1.4,1.9,2.5,3.0,3.9,1.7,1.9,2.2,2.3,2.8,1.5,1.6,3.1,2.4,2.0,1.9,2.6,2.7,1.7,1.4,3.5,2.3,2.1,2.8,1.3,2.0,2.8,1.6,2.4,2.5,1.8,2.1,3.2,1.9,1.6,2.9,2.2,1.5,4.3,2.2,1.9,2.7,2.6,1.8,1.5,2.4,2.3,3.1,3.0,1.7,1.7,2.0,2.5,2.6,2.0,1.4,1.4,2.9,3.3,1.8,2.2,2.3,1.9,2.5,2.7,1.6,1.6,2.1,4.7,1.9,2.1,2.7,1.8,2.4,2.4,1.5,3.0,2.2,1.5,2.8,2.2,1.9,2.9,2.4,2.0,1.8]
];

const traces = [tr16, tr17, tr18, tr19, tr20, tr21, tr22, tr23, tr24, tr25, tr26, tr27, tr28, tr29, tr30];

// ---- layout ----
const W = 474, H = 338;
const colLeft = [14, 172.3, 330.7];
const boxW = 133.3;
const rowTop = 15, rowStep = 67.6, boxH = 37.7;
const font = "'Liberation Sans', Arial, Helvetica, sans-serif";

const svg = d3.select("body").append("svg")
  .attr("width", W).attr("height", H)
  .style("font-family", font);

traces.forEach((tr, k) => {
  const col = k % 3, row = Math.floor(k / 3);
  const g = svg.append("g")
    .attr("transform", `translate(${colLeft[col]},${rowTop + row * rowStep})`);

  // R-style 4% padding on both axes
  const xPad = 0.04 * (nIter - 1);
  const x = d3.scaleLinear().domain([1 - xPad, nIter + xPad]).range([0, boxW]);
  const [lo, hi] = d3.extent(tr.flat());
  const yPad = 0.04 * (hi - lo);
  const y = d3.scaleLinear().domain([lo - yPad, hi + yPad]).range([boxH, 0]);

  // warmup shading
  g.append("rect")
    .attr("x", 0).attr("y", 0)
    .attr("width", x(warmup)).attr("height", boxH)
    .attr("fill", "#D6D6D6");

  tr.forEach((chain, c) => {
    const n = chain.length;
    const line = d3.line()
      .x((d, i) => x(1 + i * (nIter - 1) / (n - 1)))
      .y(d => y(d));
    g.append("path")
      .attr("d", line(chain))
      .attr("fill", "none")
      .attr("stroke", chainColors[c])
      .attr("stroke-opacity", 0.85)
      .attr("stroke-width", 0.85)
      .attr("stroke-linejoin", "round");
  });

  // frame
  g.append("rect")
    .attr("x", 0).attr("y", 0).attr("width", boxW).attr("height", boxH)
    .attr("fill", "none").attr("stroke", "#222").attr("stroke-width", 0.8);

  // x axis
  const xAxis = g.append("g")
    .attr("transform", `translate(0,${boxH})`)
    .call(d3.axisBottom(x).tickValues(xTicks).tickSize(2.5).tickPadding(3.5)
      .tickFormat(d3.format("d")));
  xAxis.select(".domain").remove();
  xAxis.selectAll("line").attr("stroke", "#333");
  xAxis.selectAll("text").attr("font-size", 7).attr("font-family", font).attr("fill", "#333");

  // y axis with rotated labels
  const labs = new Set(yLabels[k]);
  const yAxis = g.append("g")
    .call(d3.axisLeft(y).tickValues(yTicks[k]).tickSize(2.5)
      .tickFormat(v => labs.has(v) ? String(v) : ""));
  yAxis.select(".domain").remove();
  yAxis.selectAll("line").attr("stroke", "#333");
  yAxis.selectAll("text")
    .attr("font-size", 7).attr("font-family", font).attr("fill", "#333")
    .attr("x", 0).attr("y", -4.5).attr("dy", 0)
    .attr("text-anchor", "middle")
    .attr("transform", "rotate(-90)");

  // parameter name (left) and effective sample size (right)
  g.append("text")
    .attr("x", 0).attr("y", -2.3)
    .attr("font-size", 10.5).attr("fill", "#000")
    .text(params[k]);
  g.append("text")
    .attr("x", boxW).attr("y", -2.3)
    .attr("text-anchor", "end")
    .attr("font-size", 11).attr("fill", "#000")
    .text(`n_eff = ${nEff[k]}`);
});
</script>
</body>
</html>
